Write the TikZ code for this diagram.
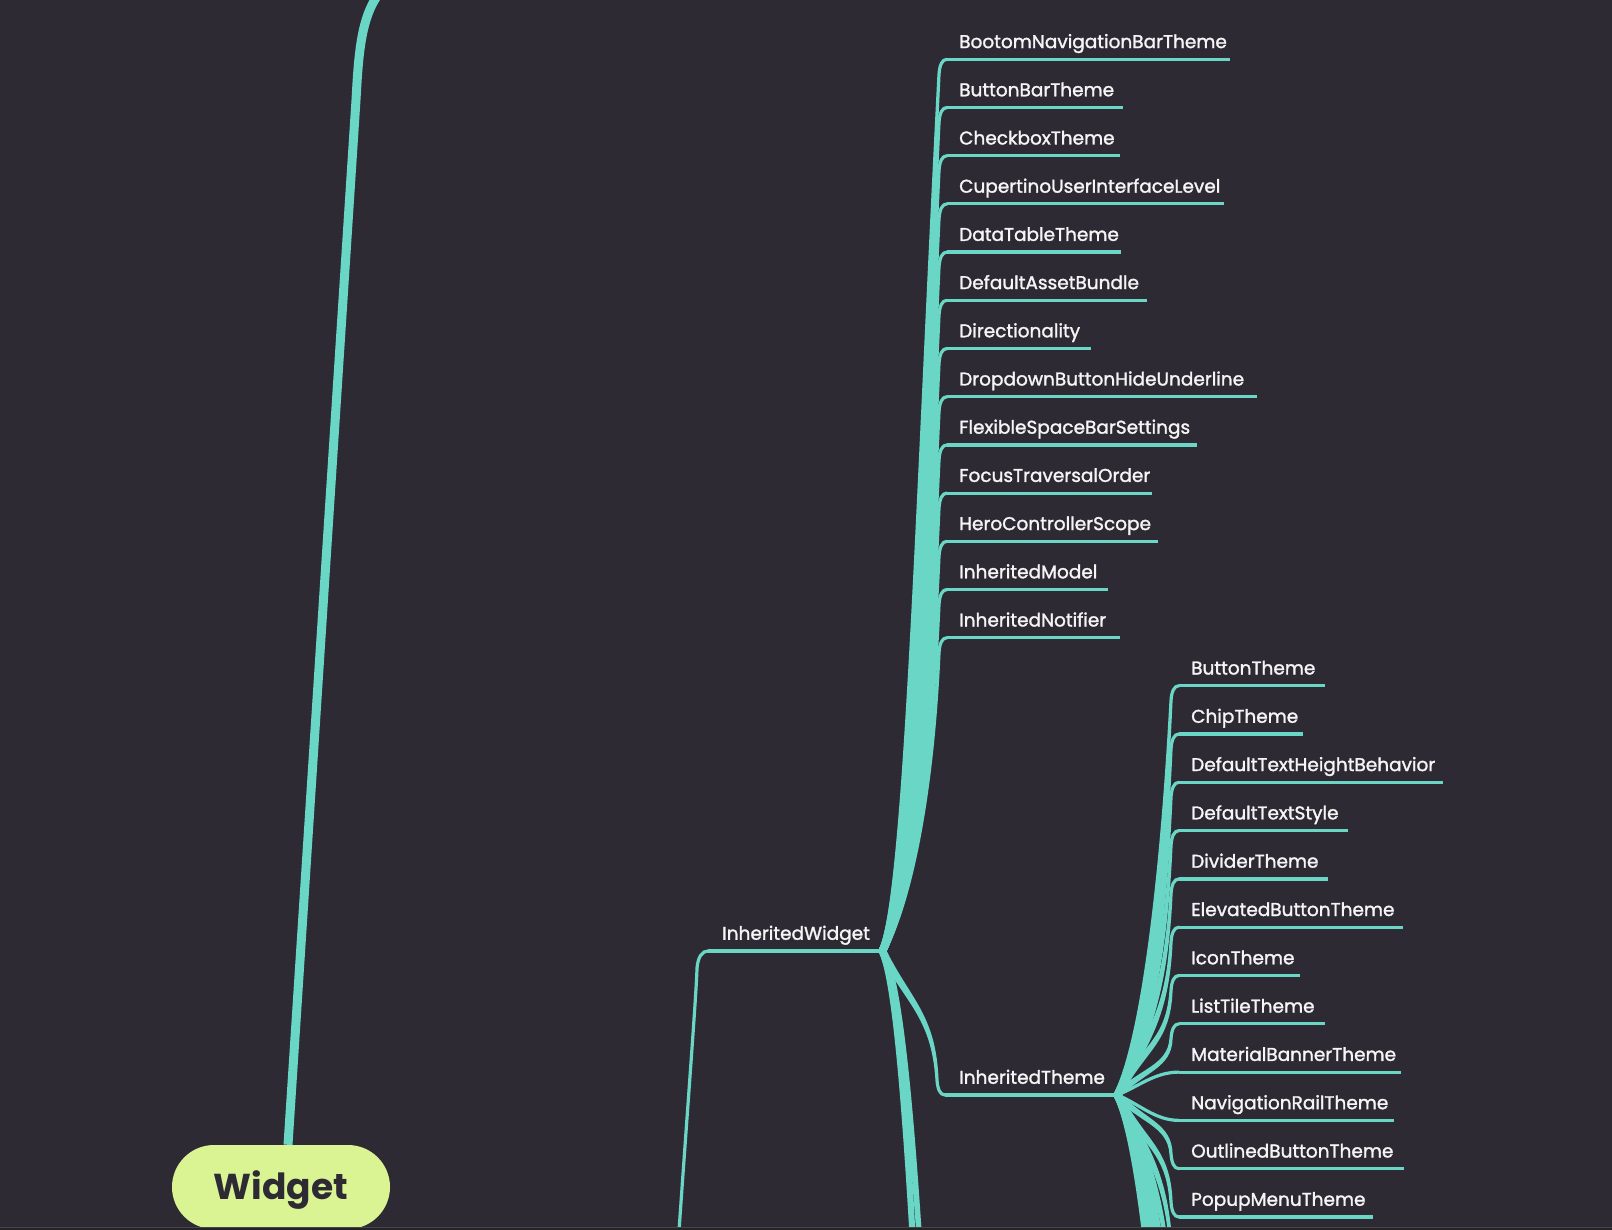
\documentclass[tikz,border=0pt]{standalone}
\usepackage{fontspec}
\setmainfont{Poppins}
\newfontfamily\labfont{Poppins}[FakeBold=1.5]
\usetikzlibrary{calc}
\definecolor{bg}{HTML}{2E2A34}
\definecolor{teal}{HTML}{6AD6C5}
\definecolor{pillc}{HTML}{DAF493}
\definecolor{ink}{HTML}{2E2A34}
\definecolor{labc}{HTML}{F5F5F5}
\definecolor{strip}{HTML}{242427}
\definecolor{stripline}{HTML}{45454A}
\newcommand\labsty{\labfont\fontsize{18.5}{22}\selectfont}
% tapered branch: thick at the parent, thin at the child, with a rounded corner into the child
\newcommand\branchline[3][]{%
  \path[edge,#1] let \p1=(#2), \p2=(#3),
    \n1={\y2-\y1},
    \n2={ifthenelse(\n1>0,1,-1)},
    \n3={abs(\n1)-15},
    \n4={min(50,0.45*\n3)},
    \n5={0.5*\n3},
    \p3=({\x1+25},{\y1+\n2*\n4}),
    \p4=({\x2-8-0.05*\n5},{\y2-\n2*15-\n2*\n5}),
    \p5=({\x2-8},{\y2-\n2*15})
  in ({\x1-2.4},\y1) .. controls ({\x3-2.4},\y3) and ({\x4-0.6},\y4) .. (\p5)
     .. controls ({\x5+0.6},{\y2-\n2*6}) and ({\x2-5},\y2) .. (\p2)
     .. controls ({\x2-5},\y2) and ({\x5+0.6},{\y2-\n2*6}) .. (\p5)
     .. controls ({\x4+0.6},\y4) and ({\x3+2.4},\y3) .. ({\x1+2.4},\y1) -- cycle;}
% short S-shaped branch for a child almost level with its parent
\newcommand\nearline[3]{%
  \draw[plain] (#1) .. controls +(22,#3) and +(-24,0) .. (#2);}
\tikzset{
  edge/.style={draw=teal, fill=teal, line width=3.2pt, line join=round},
  plain/.style={draw=teal, line width=3.2pt, line cap=round},
  uline/.style={draw=teal, line width=3.2pt, line cap=butt},
  leaf/.style={anchor=south west, text width=#1, align=left, inner xsep=12pt,
    inner ysep=0pt, text height=13pt, text depth=11pt, font=\labsty, text=labc},
  hub/.style={leaf=#1, inner xsep=14pt},
  pill/.style={fill=pillc, rounded corners=42pt, minimum width=218pt, minimum height=84pt,
    inner sep=0pt, font=\bfseries\fontsize{36}{40}\selectfont, text=ink},
  trunk/.style={draw=teal, line width=9pt},
}
\begin{document}
\begin{tikzpicture}[x=1pt,y=1pt]
\fill[bg] (0,0) rectangle (1612,-1230);
\useasboundingbox (0,0) rectangle (1612,-1230);

% main line of Widget
\coordinate (wbend) at (356,-100);
\coordinate (wtop) at (390,18);
\node[pill] (wid) at (281,-1187) {\phantom{Widget}};
\draw[trunk] ([xshift=7pt]wid.north) -- (wbend) .. controls (359,-45) and (362,-5) .. (wtop);
\node[pill, fill=none] at ([yshift=-3pt]wid.center) {Widget};

% hubs
\node[hub=146pt] (iw) at (708,-951) {InheritedWidget};
\node[hub=144pt] (it) at (945,-1095) {InheritedTheme};
\draw[uline] (iw.south west) -- (iw.south east);
\draw[uline] (it.south west) -- (it.south east);

% parent of InheritedWidget (below the frame)
\coordinate (iwp) at (664,-1480);
\draw[plain] (iwp) .. controls (672,-1300) and (696,-1010) .. (697,-968)
   .. controls (698,-957) and (702,-951) .. (iw.south west);

% children of InheritedWidget
\foreach \n/\e [count=\i from 0] in {BootomNavigationBarTheme/1230, ButtonBarTheme/1123,
  CheckboxTheme/1120, CupertinoUserInterfaceLevel/1224, DataTableTheme/1121,
  DefaultAssetBundle/1147, Directionality/1091, DropdownButtonHideUnderline/1257,
  FlexibleSpaceBarSettings/1197, FocusTraversalOrder/1152, HeroControllerScope/1158,
  InheritedModel/1108, InheritedNotifier/1120}{
  \pgfmathsetmacro\yy{-(59.3+48.2*\i)}
  \pgfmathsetmacro\tw{\e-971}
  \node[leaf=\tw pt] (a\i) at (947,\yy) {\n};
  \draw[uline] (a\i.south west) -- (a\i.south east);
  \branchline{iw.south east}{a\i.south west}
}
\branchline{iw.south east}{it.south west}
\coordinate (iwd1) at (947,-1600);
\coordinate (iwd2) at (947,-1800);
\foreach \c in {iwd1,iwd2}{\branchline{iw.south east}{\c}}

% children of InheritedTheme
\foreach \n/\e [count=\i from 0] in {ButtonTheme/1325, ChipTheme/1303,
  DefaultTextHeightBehavior/1443, DefaultTextStyle/1348, DividerTheme/1328,
  ElevatedButtonTheme/1403, IconTheme/1300, ListTileTheme/1325,
  MaterialBannerTheme/1401, NavigationRailTheme/1394, OutlinedButtonTheme/1404,
  PopupMenuTheme/1373}{
  \pgfmathsetmacro\yy{-(685.7+48.3*\i)}
  \pgfmathsetmacro\tw{\e-1203}
  \node[leaf=\tw pt] (b\i) at (1179,\yy) {\n};
  \draw[uline] (b\i.south west) -- (b\i.south east);
}
\foreach \i in {0,...,7,10,11}{\branchline{it.south east}{b\i.south west}}
\nearline{it.south east}{b8.south west}{9}
\nearline{it.south east}{b9.south west}{-9}
\foreach \k in {12,...,19}{
  \pgfmathsetmacro\yy{-(685.7+48.3*\k)}
  \coordinate (bx\k) at (1179,\yy);
  \branchline{it.south east}{bx\k}
}

% bottom strip
\fill[strip] (0,-1227) rectangle (1612,-1230);
\draw[stripline, line width=0.8pt] (0,-1227.2) -- (1612,-1227.2);
\end{tikzpicture}
\end{document}
